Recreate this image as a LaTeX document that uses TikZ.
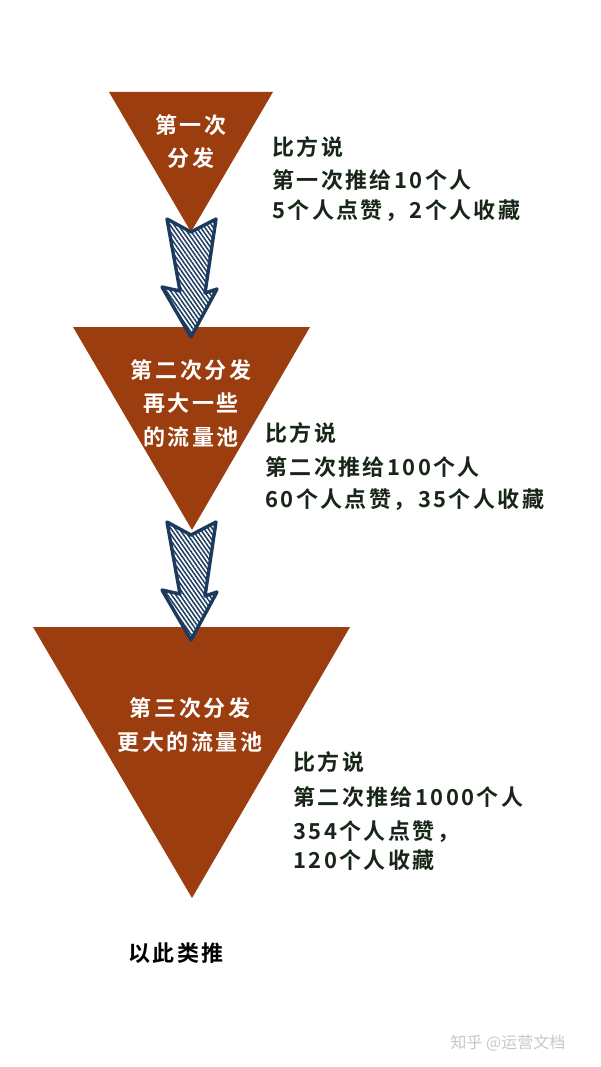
\documentclass[tikz,border=0pt]{standalone}
\usepackage{fontspec}
\usetikzlibrary{patterns.meta}
\newfontfamily\cjkw[LetterSpace=12,BoldFont={Noto Sans CJK SC Bold}]{Noto Sans CJK SC}
\newfontfamily\cjkr[LetterSpace=11,BoldFont={Noto Sans CJK SC Bold}]{Noto Sans CJK SC}
\newfontfamily\cjkp{Noto Sans CJK SC}
\definecolor{brown1}{RGB}{156,61,16}
\definecolor{navy1}{RGB}{28,57,95}
\definecolor{ink1}{RGB}{24,38,24}
\definecolor{wm}{RGB}{200,200,200}
\begin{document}
\begin{tikzpicture}[x=1pt,y=-1pt,
  tri/.style={fill=brown1},
  arr/.style={draw=navy1,line width=3.4pt,line join=round,
    preaction={fill=white},
    pattern={Lines[angle=-55,distance=3.4pt,line width=1.5pt]},pattern color=navy1},
  wtxt/.style={font=\cjkw\bfseries\fontsize{22}{26}\selectfont,text=white,inner sep=0pt},
  rtxt/.style={font=\cjkr\bfseries\fontsize{22}{26}\selectfont,text=ink1,anchor=west,inner sep=0pt},
  btxt/.style={font=\cjkw\bfseries\fontsize{22}{26}\selectfont,text=black,inner sep=0pt}]
\useasboundingbox[fill=white] (0,0) rectangle (600,1067);
% triangles
\fill[tri] (109,92) -- (273,92) -- (191,232) -- cycle;
\fill[tri] (73,327) -- (310,327) -- (192,530) -- cycle;
\fill[tri] (33,627) -- (350,627) -- (192,898) -- cycle;
% arrows
\path[arr] (167,219) -- (191,232) -- (216,219) -- (205,293) -- (217,289) -- (191,337) -- (162,287) -- (180,291) -- cycle;
\path[arr] (167,522) -- (191,535) -- (216,522) -- (205,596) -- (217,592) -- (191,640) -- (162,590) -- (180,594) -- cycle;
% triangle texts
\node[wtxt] (t1a) at (191,125) {第一次};
\node[wtxt] (t1b) at (191,158) {分发};
\node[wtxt] (t2a) at (191,370) {第二次分发};
\node[wtxt] (t2b) at (191,403) {再大一些};
\node[wtxt] (t2c) at (191,437) {的流量池};
\node[wtxt] (t3a) at (190,708) {第三次分发};
\node[wtxt] (t3b) at (190,742) {更大的流量池};
% right texts
\node[rtxt] (r1a) at (272,147) {比方说};
\node[rtxt] (r1b) at (272,180) {第一次推给10个人};
\node[rtxt] (r1c) at (272,211) {5个人点赞，2个人收藏};
\node[rtxt] (r2a) at (265,433) {比方说};
\node[rtxt] (r2b) at (265,467) {第二次推给100个人};
\node[rtxt] (r2c) at (265,500) {60个人点赞，35个人收藏};
\node[rtxt] (r3a) at (293,762) {比方说};
\node[rtxt] (r3b) at (293,797) {第二次推给1000个人};
\node[rtxt] (r3c) at (293,832) {354个人点赞，};
\node[rtxt] (r3d) at (293,860) {120个人收藏};
% bottom
\node[btxt] (end) at (176,953) {以此类推};
\node[font=\cjkp\fontsize{16}{20}\selectfont,text=wm,inner sep=0pt] (wmk) at (508,1043) {知乎 @运营文档};
\end{tikzpicture}
\end{document}
